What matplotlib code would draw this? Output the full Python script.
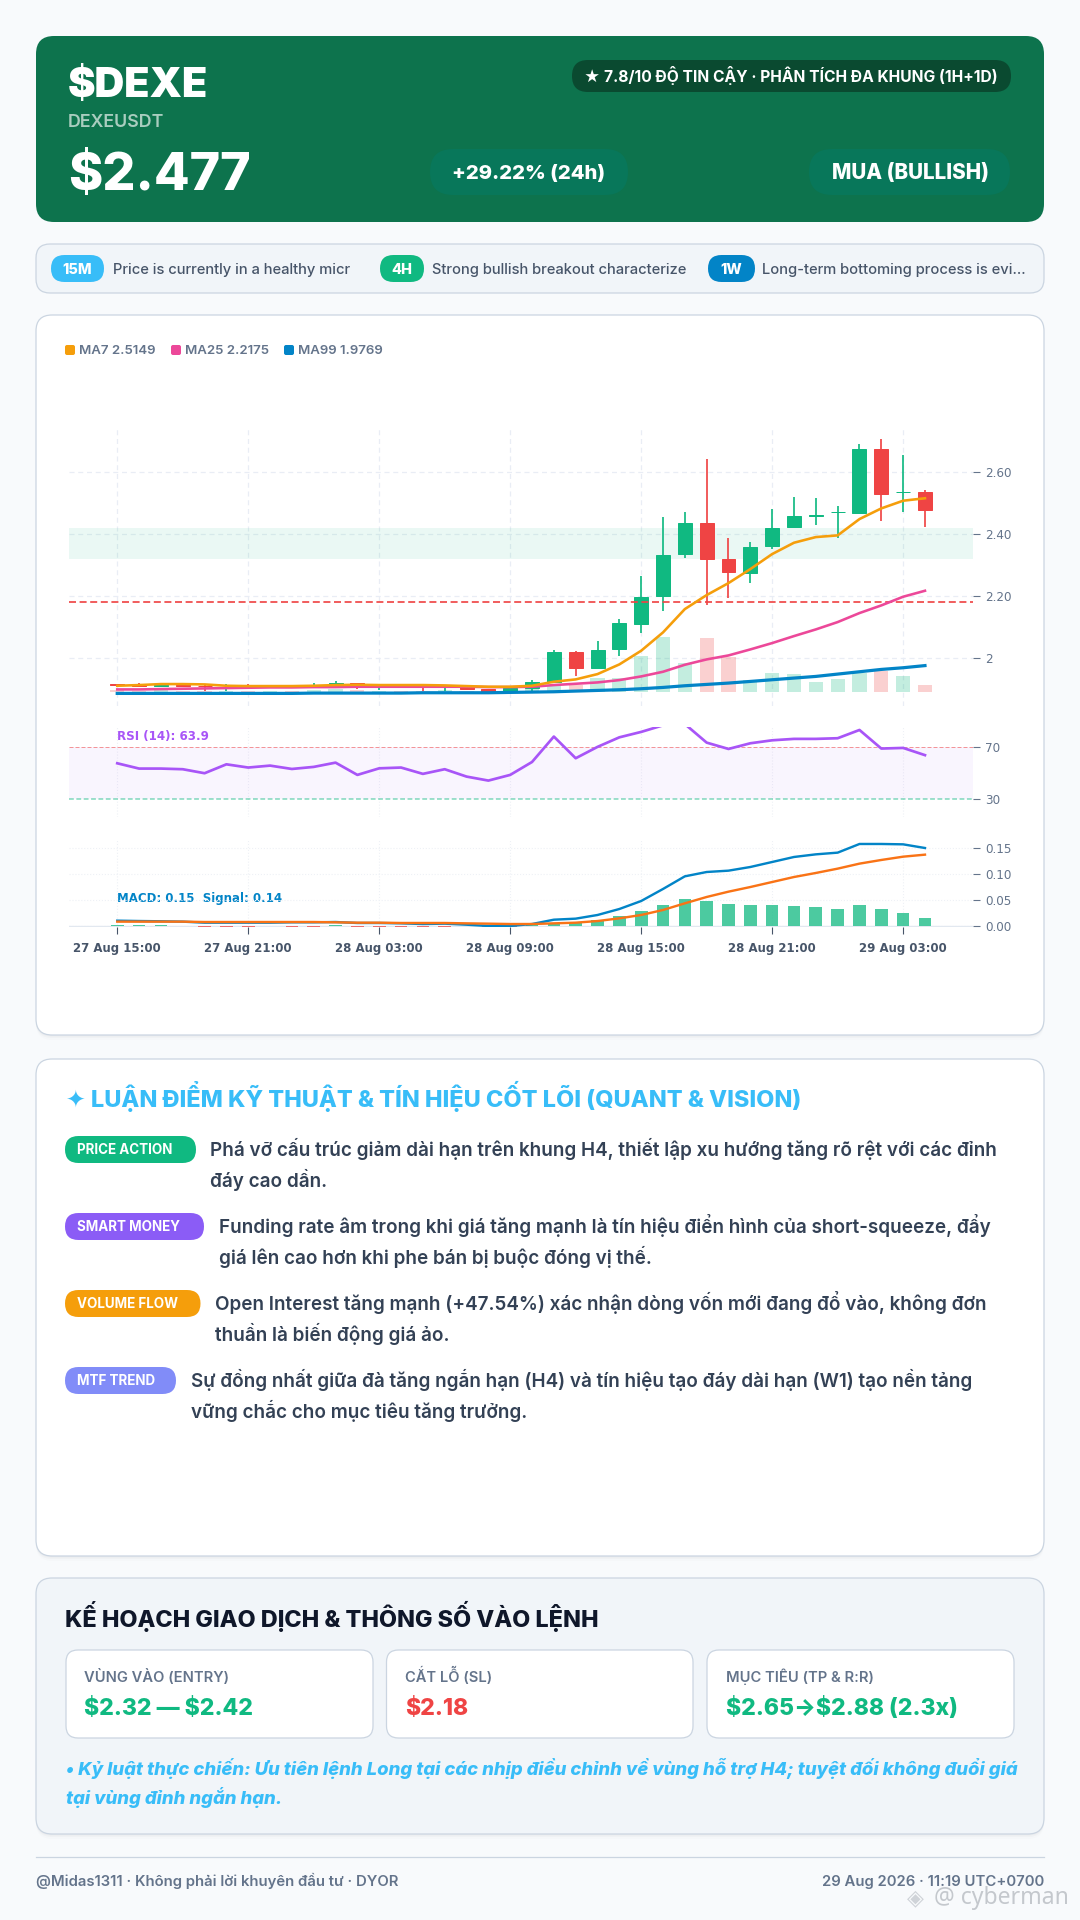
#!/usr/bin/env python

import matplotlib
matplotlib.use("Agg")
from matplotlib import pyplot as plt
from matplotlib.patches import FancyBboxPatch

W = 1080
H = 1920
PX = 72.0 / 100.0  # points per pixel at dpi 100

UP = "#10b981"
DOWN = "#ef4444"
FONT = ["Inter", "DejaVu Sans"]

# candles, one per hour from 27 Aug 15:00
opens = [1.9164, 1.913, 1.911, 1.913, 1.911, 1.905, 1.913, 1.911, 1.913, 1.912, 1.9143, 1.9207, 1.9095,
         1.913, 1.909, 1.9085, 1.9089, 1.9014, 1.8928, 1.9035, 1.925, 2.0193, 1.9689, 2.0289, 2.1104,
         2.1994, 2.3355, 2.4352, 2.3183, 2.2755, 2.3612, 2.4212, 2.4587, 2.4698, 2.4684, 2.6731, 2.5338, 2.5338]
closes = [1.916, 1.91, 1.913, 1.911, 1.91, 1.909, 1.911, 1.913, 1.912, 1.913, 1.9196, 1.9164, 1.9125,
          1.911, 1.908, 1.9095, 1.9003, 1.8928, 1.9035, 1.925, 2.0193, 1.9689, 2.0268, 2.1125, 2.1983,
          2.3323, 2.4352, 2.3183, 2.2776, 2.358, 2.4202, 2.4587, 2.4598, 2.4705, 2.6731, 2.5284, 2.5348, 2.477]
highs = [1.9175, 1.9196, 1.915, 1.914, 1.913, 1.9164, 1.9175, 1.915, 1.915, 1.9196, 1.926, 1.9225, 1.9143,
         1.914, 1.9115, 1.9115, 1.911, 1.903, 1.909, 1.9293, 2.0268, 2.0236, 2.0547, 2.1254, 2.2647,
         2.4555, 2.4695, 2.6399, 2.3869, 2.3741, 2.4791, 2.5177, 2.5155, 2.4898, 2.6892, 2.7053, 2.6549, 2.5413]
lows = [1.915, 1.908, 1.909, 1.908, 1.896, 1.896, 1.908, 1.909, 1.909, 1.909, 1.908, 1.901, 1.898,
        1.908, 1.896, 1.896, 1.899, 1.892, 1.892, 1.896, 1.9196, 1.9421, 1.9646, 2.0075, 2.0804,
        2.1533, 2.3237, 2.1715, 2.1929, 2.2422, 2.3526, 2.4202, 2.4298, 2.388, 2.4684, 2.4427, 2.4705, 2.4234]
volumes = [2, 1, 2, 1, 1, 1, 1, 0.5, 1, 2, 3, 2, 1, 1, 1, 2, 1, 1, 3, 3, 6.7, 6.7, 14, 13.3, 35.7,
           55, 28.3, 53.7, 35, 11.7, 18.7, 17.7, 10, 12.7, 19, 21, 15.7, 6.7]

ma7 = [1.9121, 1.9143, 1.9175, 1.9175, 1.9164, 1.9121, 1.911, 1.911, 1.911, 1.9121, 1.9143, 1.9153, 1.9143,
       1.9143, 1.9143, 1.9132, 1.911, 1.9089, 1.9089, 1.9121, 1.925, 1.9325, 1.9496, 1.9807, 2.0247,
       2.0836, 2.1586, 2.2036, 2.2422, 2.2872, 2.3355, 2.3719, 2.3901, 2.3955, 2.448, 2.4823, 2.507, 2.5149]
ma25 = [1.9003, 1.9003, 1.9014, 1.9025, 1.9035, 1.9046, 1.9057, 1.9067, 1.9067, 1.9078, 1.9078, 1.9089, 1.9089,
        1.9089, 1.9089, 1.9089, 1.9089, 1.9078, 1.9078, 1.9089, 1.9143, 1.9185, 1.9228, 1.9303, 1.9421,
        1.9571, 1.9796, 1.9968, 2.0096, 2.0289, 2.0493, 2.0718, 2.0932, 2.1168, 2.1458, 2.1704, 2.1983, 2.2175]
ma99 = [1.8875, 1.8875, 1.8875, 1.8875, 1.8875, 1.8875, 1.8875, 1.8875, 1.8875, 1.8885, 1.8885, 1.8885, 1.8885,
        1.8885, 1.8896, 1.8896, 1.8896, 1.8896, 1.8907, 1.8917, 1.8928, 1.895, 1.8971, 1.8992, 1.9025,
        1.9067, 1.9121, 1.9164, 1.9207, 1.926, 1.9314, 1.9368, 1.9421, 1.9496, 1.9571, 1.9646, 1.97, 1.9769]

rsi = [57.6, 53.5, 53.5, 53.0, 49.9, 56.8, 54.3, 55.8, 53.2, 54.8, 58.1, 48.6, 53.7, 54.3, 49.4, 53.0,
       47.3, 44.2, 48.6, 58.6, 78.3, 61.5, 70.3, 77.7, 81.9, 87.0, 88.0, 73.6, 68.7, 73.1, 75.4, 76.5,
       76.5, 77.0, 83.4, 69.0, 69.5, 63.9]

macd = [.0097, .009, .0085, .0078, .0058, .0058, .0058, .0058, .0065, .0065, .0071, .0052, .0052, .0045,
        .0032, .0039, .0019, -.0006, -.0006, .0032, .0116, .0136, .0207, .0323, .0478, .0711, .0956, .104,
        .1066, .1137, .1234, .1331, .1382, .1415, .1583, .1583, .1576, .1505]
signal = [.0078, .0078, .0078, .0078, .0071, .0071, .0071, .0071, .0071, .0071, .0065, .0058, .0058, .0052,
          .0052, .0052, .0045, .0039, .0032, .0032, .0045, .0058, .009, .0142, .0207, .0304, .0433, .0556,
          .0659, .0749, .0846, .0943, .1021, .1105, .1202, .1273, .1337, .1376]
hist = [.002, .0005, .0005, .0003, -.002, -.002, -.002, .0003, -.002, -.002, .0005, -.002, -.002, -.002,
        -.002, -.002, .0003, -.004, -.004, .0005, .0045, .0065, .011, .0187, .0284, .04, .0523, .0484,
        .0413, .04, .04, .0381, .0362, .0323, .04, .0323, .0245, .0142]

price_ticks = [2.0, 2.2, 2.4, 2.6]
price_labels = ["2", "2.20", "2.40", "2.60"]
macd_ticks = [0.0, 0.05, 0.10, 0.15]
macd_labels = ["0.00", "0.05", "0.10", "0.15"]
time_ticks = [0, 6, 12, 18, 24, 30, 36]
time_labels = ["27 Aug 15:00", "27 Aug 21:00", "28 Aug 03:00", "28 Aug 09:00",
               "28 Aug 15:00", "28 Aug 21:00", "29 Aug 03:00"]

hours = list(range(len(closes)))


def box(bg, x0, y0, x1, y1, r, color, edge="none", lw=0.0, z=1, alpha=None):
    bg.add_patch(FancyBboxPatch((x0 + r, y0 + r), x1 - x0 - 2 * r, y1 - y0 - 2 * r,
                                boxstyle="round,pad=%f,rounding_size=%f" % (r, r),
                                fc=color, ec=edge, lw=lw, zorder=z, alpha=alpha))


def card(bg, x0, y0, x1, y1, r, color):
    # soft shadow, then the card itself
    for off, a in [(5, 0.012), (3, 0.018), (1.5, 0.025)]:
        box(bg, x0, y0 + off, x1, y1 + off, r, "#0f172a", z=0.5, alpha=a)
    box(bg, x0, y0, x1, y1, r, color, "#cbd5e1", 0.9)


def put(bg, x, cy, s, size, color, weight=400, ha="left", style="normal", fam=None):
    # cy is the middle of the capitals, in pixels
    return bg.text(x, cy + 0.36 * size, s, fontsize=size * PX, color=color, fontweight=weight,
                   ha=ha, va="baseline", fontstyle=style, family=fam or FONT, zorder=5, parse_math=False)


def chart_axes(fig, y0, y1):
    ax = fig.add_axes([69 / W, 1 - y1 / H, (973 - 69) / W, (y1 - y0) / H])
    ax.patch.set_alpha(0)
    for s in ax.spines.values():
        s.set_visible(False)
    ax.set_xlim(-2.21, 39.2)
    ax.set_xticks(time_ticks)
    ax.set_xticklabels([])
    ax.tick_params(axis="x", length=0)
    ax.tick_params(axis="y", length=5, width=0.8, color="#64748b", labelcolor="#64748b",
                   labelsize=12 * PX, pad=4)
    ax.yaxis.tick_right()
    return ax


def draw_page(fig):
    bg = fig.add_axes([0, 0, 1, 1], zorder=0)
    bg.set_xlim(0, W)
    bg.set_ylim(H, 0)
    bg.axis("off")
    bg.add_patch(plt.Rectangle((0, 0), W, H, fc="#f8fafc", ec="none", zorder=0))

    # header
    box(bg, 36, 36, 1044, 222, 18, "#0d734d")
    put(bg, 68, 82, "$DEXE", 41.3, "white", 900)
    put(bg, 68, 120.5, "DEXEUSDT", 17.8, "#a9cdbf", 600)
    put(bg, 68, 171, "$2.477", 52, "white", 800)
    box(bg, 572, 60, 1011, 92, 16, "#0a4a30", z=2)
    put(bg, 791, 76, "★ 7.8/10 ĐỘ TIN CẬY · PHÂN TÍCH ĐA KHUNG (1H+1D)", 15.6, "white", 700, ha="center")
    box(bg, 430, 149, 628, 195, 23, "#08775a", z=2)
    put(bg, 529, 171.5, "+29.22% (24h)", 20.2, "white", 800, ha="center")
    box(bg, 809, 149, 1010, 195, 23, "#08775a", z=2)
    put(bg, 910, 171.5, "MUA (BULLISH)", 20.6, "white", 800, ha="center")

    # timeframe strip
    box(bg, 36, 244, 1044, 293, 14, "#f1f5f9", "#cbd5e1", 0.9)
    chips = [(51, 104, "15M", "#38bdf8", 113, "Price is currently in a healthy micr"),
             (380, 424, "4H", UP, 432.5, "Strong bullish breakout characterize"),
             (708, 755, "1W", "#0284c7", 762, "Long-term bottoming process is evi...")]
    for x0, x1, tag, col, tx, txt in chips:
        box(bg, x0, 255, x1, 282, 13.5, col, z=2)
        put(bg, (x0 + x1) / 2, 268.5, tag, 14.5, "white", 800, ha="center")
        put(bg, tx, 269, txt, 14.7, "#475569", 500)

    # chart card
    card(bg, 36, 315, 1044, 1035, 16, "white")
    legend = [(65, "#f59e0b", "MA7 2.5149"), (171, "#ec4899", "MA25 2.2175"), (284, "#0284c7", "MA99 1.9769")]
    for x0, col, txt in legend:
        box(bg, x0, 345, x0 + 10, 355, 2, col, z=2)
        put(bg, x0 + 14, 349.5, txt, 13.3, "#64748b", 600)

    # analysis card
    card(bg, 36, 1059, 1044, 1556, 16, "white")
    put(bg, 66, 1099, "✦ LUẬN ĐIỂM KỸ THUẬT & TÍN HIỆU CỐT LÕI (QUANT & VISION)", 23.5, "#38bdf8", 800)
    points = [
        (1136, 196, "PRICE ACTION", UP, 210, "Phá vỡ cấu trúc giảm dài hạn trên khung H4, thiết lập xu hướng tăng rõ rệt với các đỉnh", "đáy cao dần."),
        (1213, 204, "SMART MONEY", "#8b5cf6", 219, "Funding rate âm trong khi giá tăng mạnh là tín hiệu điển hình của short-squeeze, đẩy", "giá lên cao hơn khi phe bán bị buộc đóng vị thế."),
        (1290, 200.5, "VOLUME FLOW", "#f59e0b", 215, "Open Interest tăng mạnh (+47.54%) xác nhận dòng vốn mới đang đổ vào, không đơn", "thuần là biến động giá ảo."),
        (1367, 176, "MTF TREND", "#818cf8", 191, "Sự đồng nhất giữa đà tăng ngắn hạn (H4) và tín hiệu tạo đáy dài hạn (W1) tạo nền tảng", "vững chắc cho mục tiêu tăng trưởng."),
    ]
    for y0, x1, tag, col, tx, line1, line2 in points:
        box(bg, 65, y0, x1, y0 + 27, 13.5, col, z=2)
        put(bg, 77, y0 + 13.5, tag, 13.4, "white", 700)
        put(bg, tx, y0 + 13.5, line1, 18.9, "#334155", 600)
        put(bg, tx, y0 + 44, line2, 18.9, "#334155", 600)

    # plan card
    card(bg, 36, 1578, 1044, 1834, 16, "#f1f5f9")
    put(bg, 65, 1619, "KẾ HOẠCH GIAO DỊCH & THÔNG SỐ VÀO LỆNH", 23.4, "#0f172a", 800)
    cells = [(66, 373, "VÙNG VÀO (ENTRY)", "$2.32 — $2.42", UP),
             (386.5, 693, "CẮT LỖ (SL)", "$2.18", DOWN),
             (707, 1014, "MỤC TIÊU (TP & R:R)", "$2.65→$2.88 (2.3x)", UP)]
    for x0, x1, lab, val, col in cells:
        box(bg, x0, 1650, x1, 1738, 12, "white", "#cbd5e1", 0.9, z=2)
        put(bg, x0 + 18.5, 1677, lab, 14.7, "#64748b", 600)
        put(bg, x0 + 18.5, 1707, val, 23.0, col, 800)
    put(bg, 66, 1768, "• Kỷ luật thực chiến: Ưu tiên lệnh Long tại các nhịp điều chỉnh về vùng hỗ trợ H4; tuyệt đối không đuổi giá",
        18.5, "#38bdf8", 800, style="italic")
    put(bg, 66, 1797, "tại vùng đỉnh ngắn hạn.", 18.5, "#38bdf8", 800, style="italic")

    # footer
    bg.plot([36, 1044], [1857, 1857], color="#cbd5e1", lw=0.9, zorder=2)
    put(bg, 36, 1881, "@Midas1311 · Không phải lời khuyên đầu tư · DYOR", 14.9, "#64748b", 600)
    put(bg, 1044, 1881, "29 Aug 2026 · 11:19 UTC+0700", 14.9, "#64748b", 600, ha="right")
    put(bg, 915, 1896, "◈", 22, "#cfd3d8", 400, ha="center", fam=["DejaVu Sans"])
    put(bg, 934, 1896, "@ cyberman", 23, "#c4c8cd", 400, fam=["Noto Sans"])
    return bg


def draw_price(fig):
    ax = chart_axes(fig, 427, 706)
    ax.set_ylim(1.847, 2.744)
    ax.set_yticks(price_ticks)
    ax.set_yticklabels(price_labels)
    ax.grid(True, color="#e9edf5", lw=0.9, ls=(0, (4, 3)), zorder=0)
    ax.set_axisbelow(True)

    up_flags = [c >= o for o, c in zip(opens, closes)]

    # volume sits on its own scale, in the same axes box
    vol = ax.twinx()
    vol.patch.set_alpha(0)
    for s in vol.spines.values():
        s.set_visible(False)
    vol.set_ylim(-14.3, 264.7)
    vol.set_yticks([])
    vol.bar(hours, volumes, width=0.65, color=[UP if u else DOWN for u in up_flags], alpha=0.25, lw=0, zorder=1)

    over = ax.twinx()
    over.patch.set_alpha(0)
    for s in over.spines.values():
        s.set_visible(False)
    over.set_ylim(1.847, 2.744)
    over.set_yticks([])
    over.axhspan(2.32, 2.42, color=UP, alpha=0.085, lw=0, zorder=1)
    for h in hours:
        col = UP if up_flags[h] else DOWN
        over.plot([h, h], [lows[h], highs[h]], color=col, lw=1.7 * PX, solid_capstyle="butt", zorder=2)
        over.bar(h, abs(closes[h] - opens[h]), bottom=min(opens[h], closes[h]), width=0.64,
                 color=col, edgecolor=col, lw=1.0 * PX, zorder=3)
    over.axhline(2.18, color=DOWN, lw=2.0 * PX, ls=(0, (3.5, 1.8)), alpha=0.85, zorder=4)
    over.plot(hours, ma99, color="#0284c7", lw=3.2 * PX, zorder=5)
    over.plot(hours, ma25, color="#ec4899", lw=2.6 * PX, zorder=6)
    over.plot(hours, ma7, color="#f59e0b", lw=2.6 * PX, zorder=7)
    ax.yaxis.tick_right()


def draw_rsi(fig):
    ax = chart_axes(fig, 727, 817)
    ax.set_ylim(16, 85.7)
    ax.set_yticks([30, 70])
    ax.set_yticklabels(["30", "70"])
    ax.grid(True, axis="x", color="#eef1f6", lw=0.8, ls=":", zorder=0)
    ax.set_axisbelow(True)
    ax.axhspan(30, 70, color="#a855f7", alpha=0.06, lw=0, zorder=1)
    ax.axhline(70, color=DOWN, lw=1.0 * PX, ls=(0, (4, 2)), alpha=0.55, zorder=2)
    ax.axhline(30, color=UP, lw=1.6 * PX, ls=(0, (3, 1.6)), alpha=0.5, zorder=2)
    ax.plot(hours, rsi, color="#a855f7", lw=2.7 * PX, zorder=3)


def draw_macd(fig):
    ax = chart_axes(fig, 840, 926.5)
    ax.set_ylim(-0.0016, 0.166)
    ax.set_yticks(macd_ticks)
    ax.set_yticklabels(macd_labels)
    ax.grid(True, color="#eef1f6", lw=0.8, ls=":", zorder=0)
    ax.set_axisbelow(True)
    ax.axhline(0, color="#e2e8f0", lw=1.0, zorder=1)
    ax.bar(hours, hist, width=0.58, color=[UP if v >= 0 else DOWN for v in hist], alpha=0.75, lw=0, zorder=2)
    ax.plot(hours, macd, color="#0284c7", lw=2.4 * PX, zorder=3)
    ax.plot(hours, signal, color="#f97316", lw=2.4 * PX, zorder=4)
    ax.tick_params(axis="x", length=5, width=0.8, color="#475569", pad=6, labelsize=11.7 * PX, labelcolor="#475569")
    ax.set_xticklabels(time_labels, fontweight="bold", family="DejaVu Sans")


if __name__ == "__main__":
    plt.rcParams["font.family"] = ["DejaVu Sans"]
    fig = plt.figure(figsize=(W / 100, H / 100), dpi=100)
    bg = draw_page(fig)
    draw_price(fig)
    draw_rsi(fig)
    draw_macd(fig)
    bg.set_zorder(-1)
    bg.text(117.3, 740, "RSI (14): 63.9", color="#a855f7", fontsize=8.6, fontweight="bold",
            family="DejaVu Sans", va="baseline", zorder=6)
    bg.text(117.3, 902, "MACD: 0.15  Signal: 0.14", color="#0284c7", fontsize=8.5, fontweight="bold",
            family="DejaVu Sans", va="baseline", zorder=6)
    fig.savefig("out.png", dpi=100)
